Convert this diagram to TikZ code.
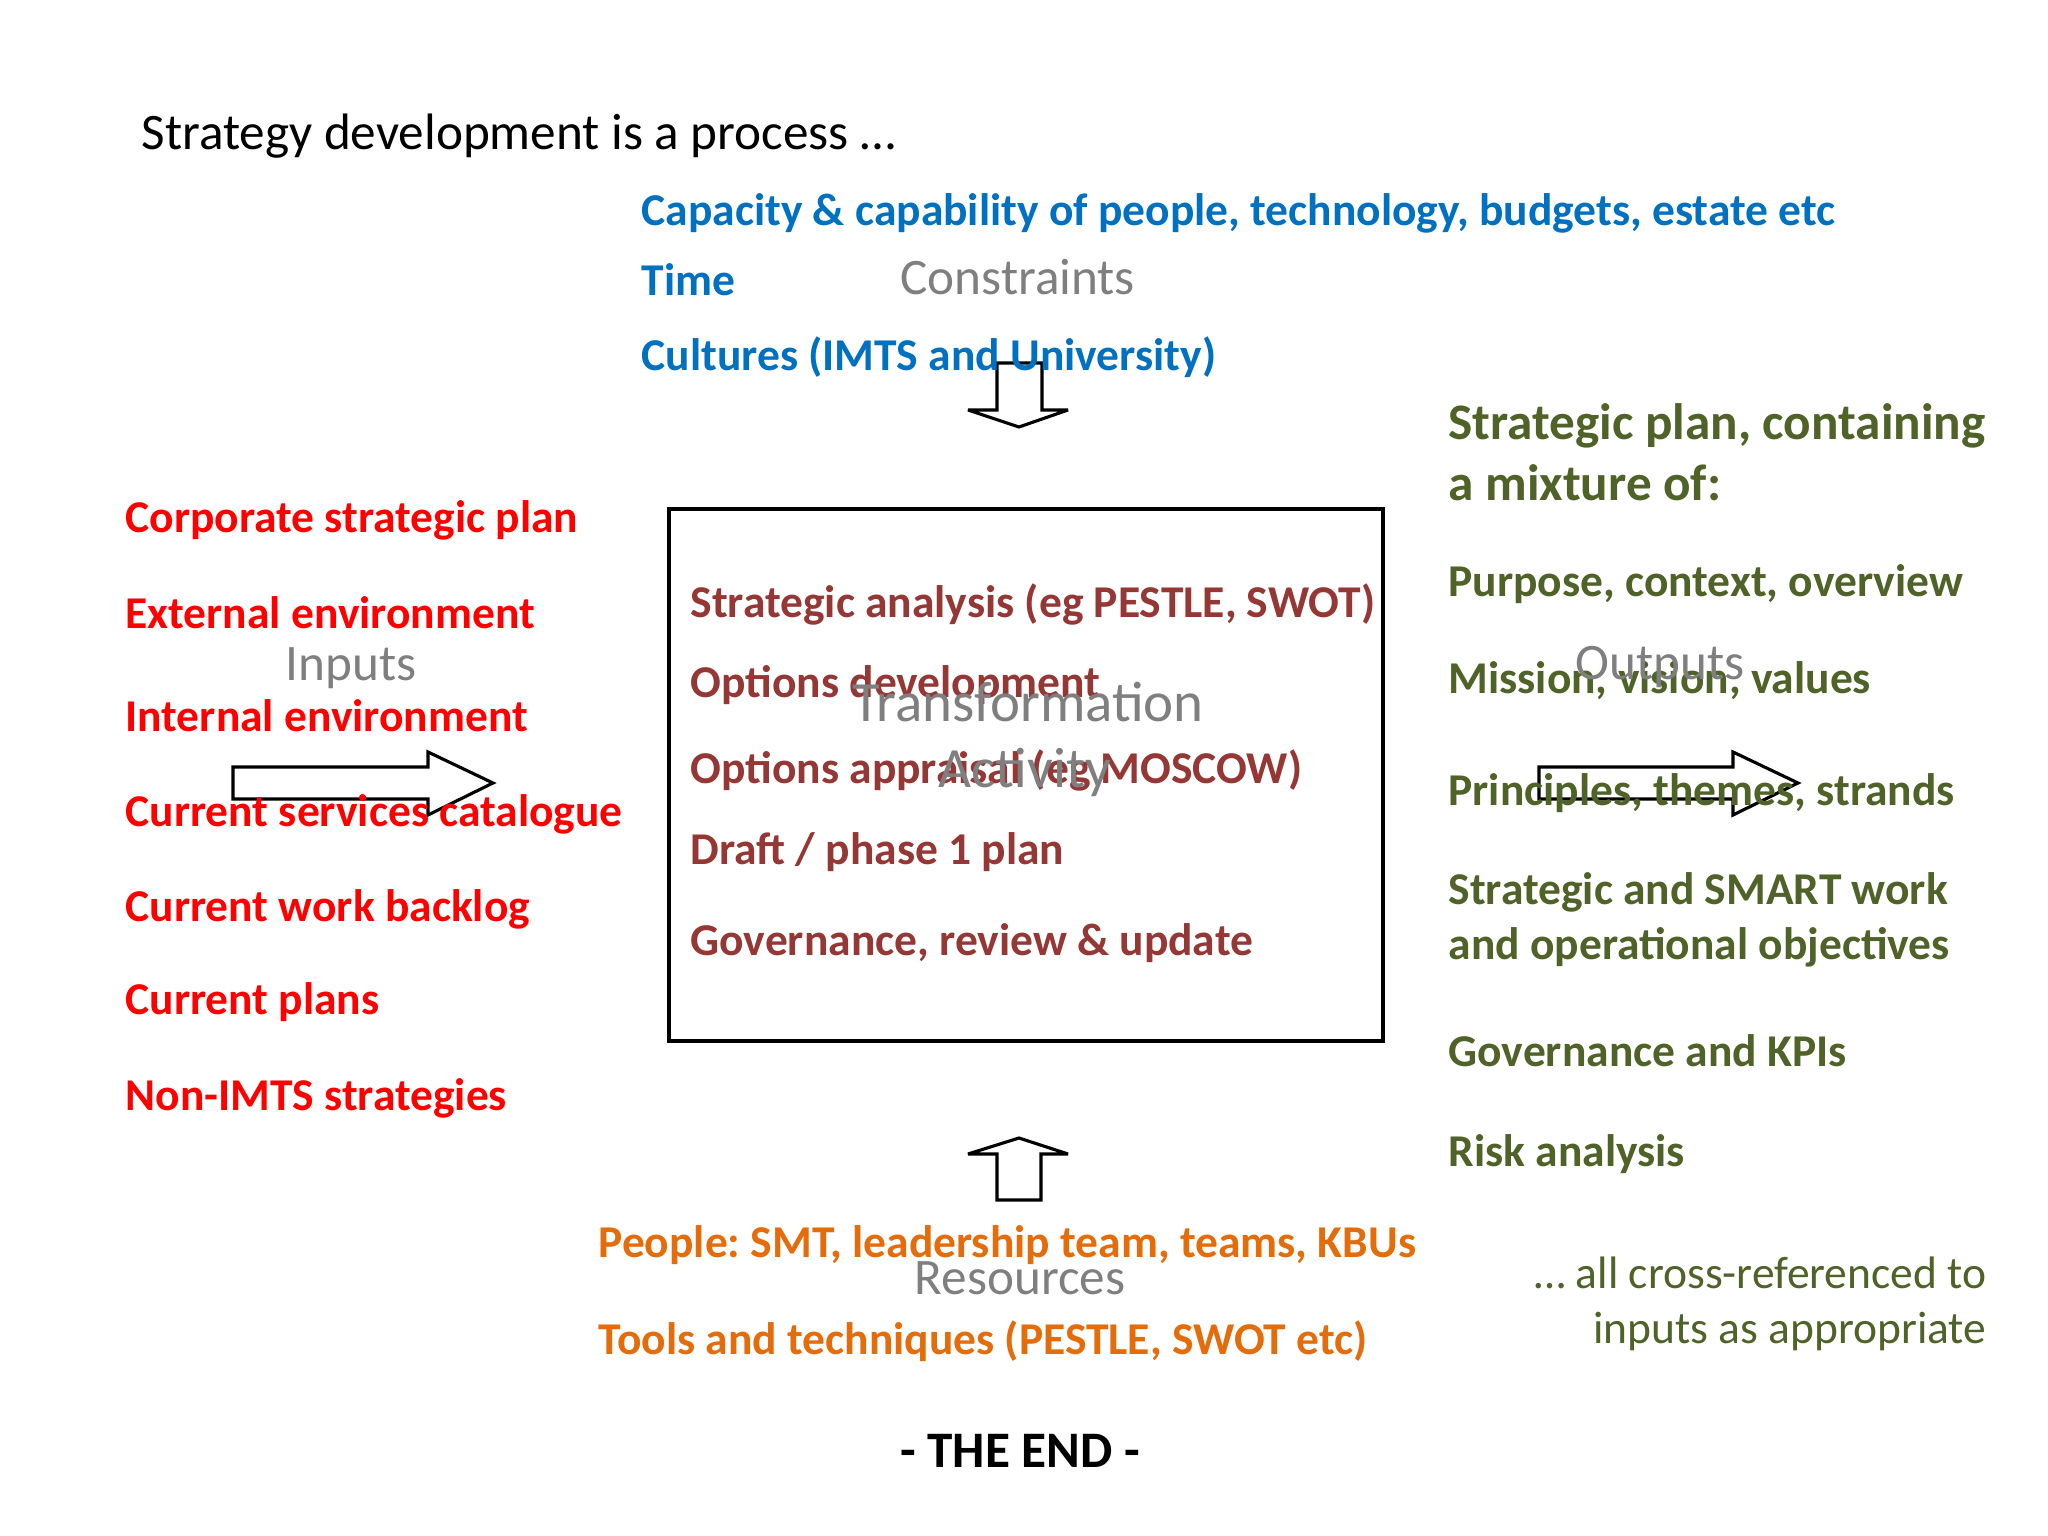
\documentclass[tikz,border=0pt]{standalone}
\usepackage{fontspec}
\setmainfont{Carlito}
\frenchspacing
\definecolor{cblue}{HTML}{0070C0}
\definecolor{cred}{HTML}{FF0000}
\definecolor{cgreen}{HTML}{4F6228}
\definecolor{cdred}{HTML}{953735}
\definecolor{corange}{HTML}{E46C0A}
\definecolor{cgrey}{HTML}{7F7F7F}
\begin{document}
\begin{tikzpicture}[x=0.35156pt,y=-0.35156pt,
  base/.style={inner sep=0pt, text height=0.64em, text depth=0pt},
  lt/.style={base, anchor=west},
  rt/.style={base, anchor=east},
  ct/.style={base, anchor=center},
  bsize/.style={font=\bfseries\fontsize{16}{19}\selectfont},
  blue/.style={lt, bsize, text=cblue},
  redt/.style={lt, bsize, text=cred},
  greent/.style={lt, bsize, text=cgreen},
  dredt/.style={lt, bsize, text=cdred},
  oranget/.style={lt, bsize, text=corange},
  greyt/.style={ct, text=cgrey, font=\fontsize{18}{21}\selectfont},
  blockarrow/.style={draw=black, line width=1.1pt, line join=miter, miter limit=2.5, fill=none}
]
\useasboundingbox[fill=white] (0,0) rectangle (2048,1536);

% block arrows
\draw[blockarrow] (997,363) -- (1042,363) -- (1042,410) -- (1068,410) -- (1019,427) -- (968,410) -- (997,410) -- cycle;
\draw[blockarrow] (997,1200) -- (1041,1200) -- (1041,1154) -- (1068,1154) -- (1019,1138) -- (968,1154) -- (997,1154) -- cycle;
\draw[blockarrow] (233,767) -- (428,767) -- (428,752) -- (493,783) -- (428,815) -- (428,799) -- (233,799) -- cycle;
\draw[blockarrow] (1539,767) -- (1733,767) -- (1733,752) -- (1798,783) -- (1733,815) -- (1733,799) -- (1539,799) -- cycle;

% central box
\node[draw=black, line width=1.1pt, minimum width={714*0.35156pt}, minimum height={532*0.35156pt}, inner sep=0pt] (box) at (1026,775) {};

% title
\node[lt, font=\fontsize{18}{21}\selectfont] (title) at (141,140) {Strategy development is a process \ldots};

% constraints
\node[blue] (cap) at (641,216) {Capacity \& capability of people, technology, budgets, estate etc};
\node[blue] (time) at (641,286) {Time};
\node[blue] (cult) at (641,361) {Cultures (IMTS and University)};
\node[greyt, anchor=west] (constr) at (900,285) {Constraints};

% box contents
\node[dredt] (a1) at (690,608) {Strategic analysis (eg PESTLE, SWOT)};
\node[dredt] (a2) at (690,688) {Options development};
\node[dredt] (a3) at (690,774) {Options appraisal (eg MOSCOW)};
\node[dredt] (a4) at (690,855) {Draft / phase 1 plan};
\node[dredt] (a5) at (690,946) {Governance, review \& update};
\node[greyt, font=\fontsize{20}{24}\selectfont] (transf) at (1028,712) {Transformation};
\node[greyt, font=\fontsize{20}{24}\selectfont] (activ) at (1025,778) {Activity};

% inputs
\node[redt] (i1) at (125,523) {Corporate strategic plan};
\node[redt] (i2) at (125,619) {External environment};
\node[redt] (i3) at (125,722) {Internal environment};
\node[redt] (i4) at (125,817) {Current services catalogue};
\node[redt] (i5) at (125,912) {Current work backlog};
\node[redt] (i6) at (125,1005) {Current plans};
\node[redt] (i7) at (125,1101) {Non-IMTS strategies};
\node[greyt] (inputs) at (351,671) {Inputs};

% outputs
\node[greent, font=\bfseries\fontsize{18}{21}\selectfont] (o0) at (1448,430) {Strategic plan, containing};
\node[greent, font=\bfseries\fontsize{18}{21}\selectfont] (o0b) at (1448,491) {a mixture of:};
\node[greent] (o1) at (1448,587) {Purpose, context, overview};
\node[greent] (o2) at (1448,684) {Mission, vision, values};
\node[greent] (o3) at (1448,796) {Principles, themes, strands};
\node[greent] (o4) at (1448,895) {Strategic and SMART work};
\node[greent] (o4b) at (1448,950) {and operational objectives};
\node[greent] (o5) at (1448,1057) {Governance and KPIs};
\node[greent] (o6) at (1448,1157) {Risk analysis};
\node[greyt] (outputs) at (1660,670) {Outputs};

\node[rt, text=cgreen, font=\fontsize{16}{19}\selectfont] (x1) at (1987,1279) {\ldots{} all cross-referenced to};
\node[rt, text=cgreen, font=\fontsize{16}{19}\selectfont] (x2) at (1987,1334) {inputs as appropriate};

% resources
\node[oranget] (r1) at (598,1248) {People: SMT, leadership team, teams, KBUs};
\node[oranget] (r2) at (598,1345) {Tools and techniques (PESTLE, SWOT etc)};
\node[greyt] (res) at (1020,1285) {Resources};

\node[ct, font=\bfseries\fontsize{18}{21}\selectfont] (end) at (1020,1458) {- THE END -};
\end{tikzpicture}
\end{document}
